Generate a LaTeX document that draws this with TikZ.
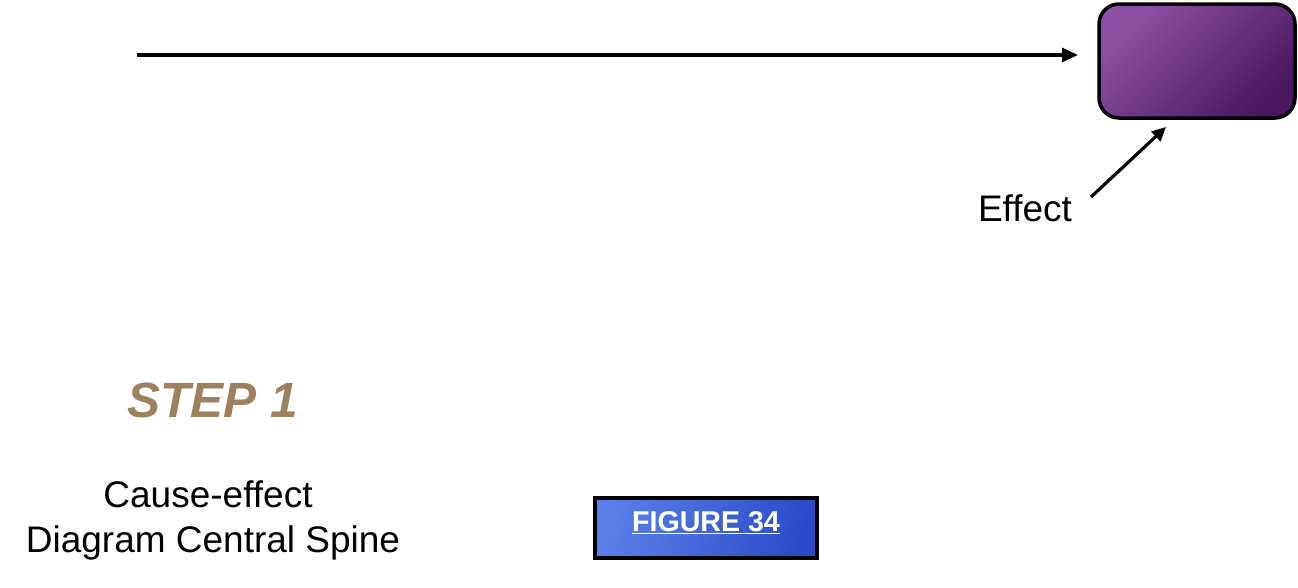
\documentclass[tikz,border=0pt]{standalone}
\usepackage{fontspec}
\setmainfont{Liberation Sans}
\usetikzlibrary{arrows.meta}
\definecolor{purpA}{HTML}{8B52A3}
\definecolor{purpB}{HTML}{4A185E}
\definecolor{blueA}{HTML}{5A80E8}
\definecolor{blueB}{HTML}{2C4AC8}
\definecolor{steptan}{HTML}{9C8160}
\tikzset{
  conn/.style={line width=3.6pt, -{Triangle[length=16pt,width=14pt]}},
  effbox/.style={draw=black, line width=3.5pt, rounded corners=20pt, left color=purpA, right color=purpB, shading angle=45, minimum width=196pt, minimum height=114pt},
  figbox/.style={draw=black, line width=4pt, left color=blueA, right color=blueB, shading angle=80, minimum width=222pt, minimum height=60pt},
  lbl/.style={font=\fontsize{37}{45}\selectfont, align=center, inner sep=0pt},
}
\begin{document}
\begin{tikzpicture}[x=1pt,y=-1pt]
\useasboundingbox (0,0) rectangle (1298,587);
\node[effbox] (eff) at (1197,61) {};
\coordinate (spinestart) at (137,55);
\coordinate (spineend) at (1078,55);
\draw[conn] (spinestart) -- (spineend);
\node[lbl, font=\fontsize{37}{40}\selectfont] (efftxt) at (1025,208) {Effect};
\coordinate (efftail) at (1091,197);
\coordinate (effhead) at (1166,127);
\draw[conn, line width=3.2pt, -{Triangle[length=14pt,width=13pt]}] (efftail) -- (effhead);
\node[lbl, font=\fontsize{49.5}{50}\selectfont\bfseries\itshape, text=steptan] (step1) at (213,400) {STEP 1};
\node[lbl] (caption) at (213,520) {Cause-effect\kern10pt\\Diagram Central Spine};
\node[figbox] (fig) at (706,528) {};
\node[inner sep=0pt, text=white, font=\fontsize{28.6}{30}\selectfont\bfseries] (figtxt) at (706,523) {\underline{FIGURE 34}};
\end{tikzpicture}
\end{document}
